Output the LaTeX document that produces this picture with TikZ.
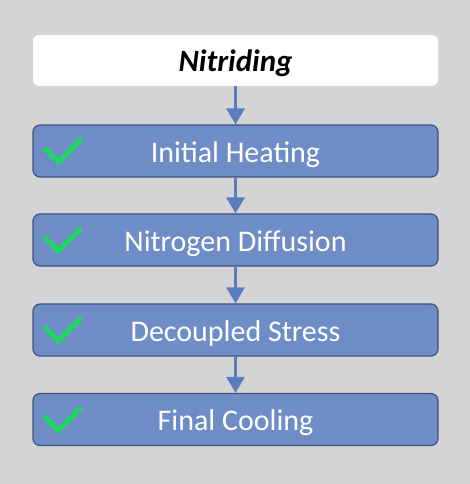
\documentclass[tikz,border=0pt]{standalone}
\usepackage{fontspec}
\setmainfont{Carlito}
\usetikzlibrary{arrows.meta}
\definecolor{bg}{HTML}{D4D4D4}
\definecolor{stepblue}{HTML}{6E8CC6}
\definecolor{stepedge}{HTML}{3E5482}
\definecolor{arrowblue}{HTML}{5B7DBE}
\definecolor{checkgreen}{HTML}{1ED760}
\tikzset{
  titlebox/.style={draw=white!85!gray, fill=white, rounded corners=6pt, minimum width=405pt, minimum height=51pt, inner sep=0pt, text height=27pt, text depth=4pt, font=\fontsize{31}{36}\selectfont\bfseries\itshape, text=black},
  stepbox/.style={draw=stepedge, line width=1.2pt, fill=stepblue, rounded corners=7pt, minimum width=405pt, minimum height=52pt, inner sep=0pt, text height=27pt, text depth=4pt, font=\fontsize{30}{35}\selectfont, text=white},
  flow/.style={draw=arrowblue, line width=3pt, -{Triangle[width=18pt,length=16pt]}},
  checkmark/.style={draw=checkgreen, line width=5pt}
}
\begin{document}
\begin{tikzpicture}[x=1pt,y=1pt]
\fill[bg] (0,0) rectangle (470,484);
\useasboundingbox (0,0) rectangle (470,484);
\node[titlebox] (t) at (235.5,423.5) {Nitriding};
\node[stepbox] (s1) at (235.5,333) {Initial Heating};
\node[stepbox] (s2) at (235.5,244) {Nitrogen Diffusion};
\node[stepbox] (s3) at (235.5,154) {Decoupled Stress};
\node[stepbox] (s4) at (235.5,64.5) {Final Cooling};
\draw[flow] (t.south) -- (s1.north);
\draw[flow] (s1.south) -- (s2.north);
\draw[flow] (s2.south) -- (s3.north);
\draw[flow] (s3.south) -- (s4.north);
\foreach \n in {s1,s2,s3,s4}{
  \draw[checkmark] ([xshift=12pt,yshift=3pt]\n.west) -- ([xshift=26pt,yshift=-11pt]\n.west) -- ([xshift=49pt,yshift=12pt]\n.west);
}
\end{tikzpicture}
\end{document}
